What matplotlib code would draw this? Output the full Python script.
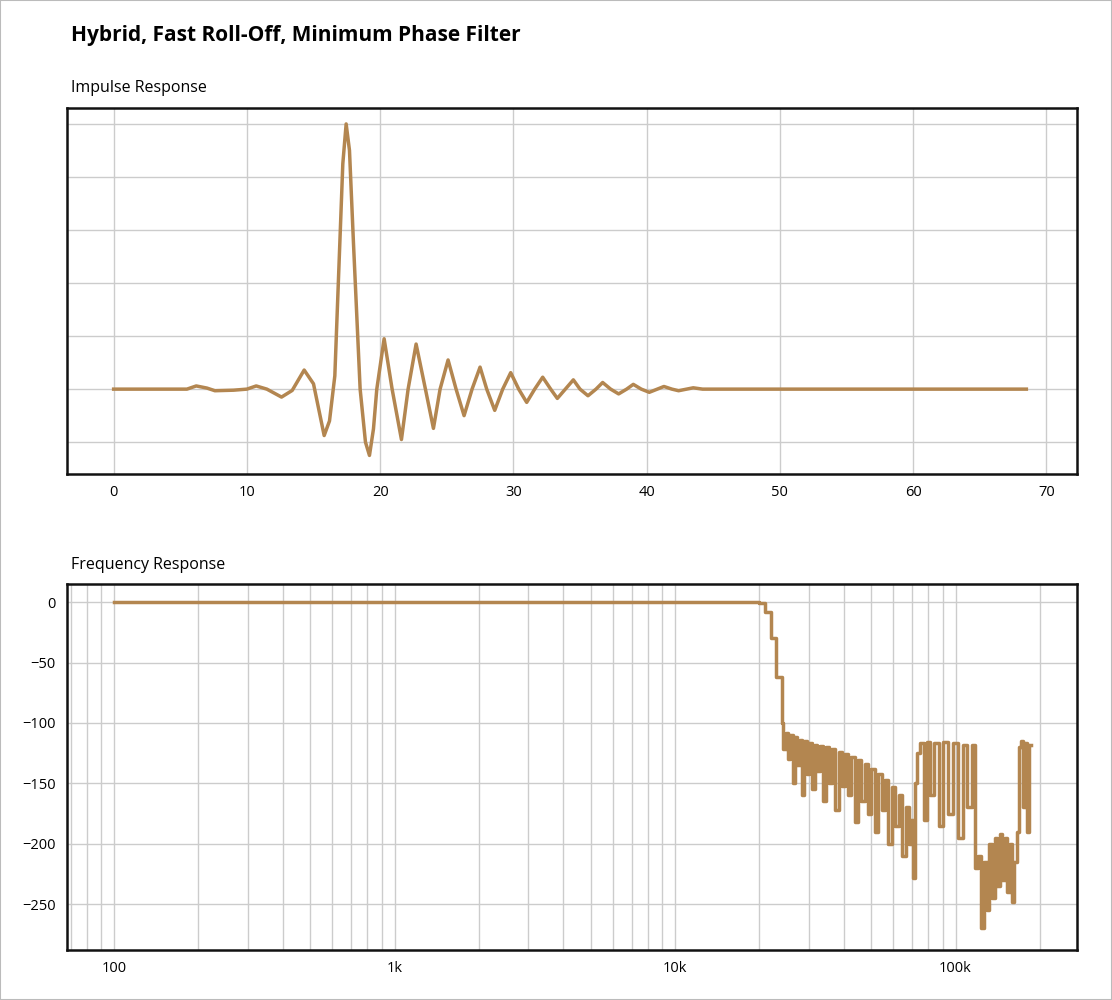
import matplotlib.pyplot as plt
from matplotlib.ticker import FixedLocator, NullFormatter

# impulse response (time, amplitude)
imp_t = [0, 5.5, 6.2, 7.0, 7.6, 9.0, 10.0, 10.7, 11.5, 12.6, 13.4, 14.3, 15.0, 15.8, 16.2,
         16.6, 16.9, 17.2, 17.45, 17.7, 18.0, 18.5, 18.9, 19.2, 19.5, 19.75, 20.3, 20.9,
         21.6, 22.1, 22.7, 23.4, 24.0, 24.5, 25.1, 25.7, 26.3, 26.9, 27.5, 28.0, 28.6,
         29.2, 29.8, 30.4, 31.0, 31.6, 32.2, 32.8, 33.3, 33.9, 34.5, 35.0, 35.6, 36.2,
         36.7, 37.3, 37.9, 38.5, 39.0, 39.6, 40.2, 40.8, 41.3, 41.9, 42.4, 43.0, 43.5,
         44.2, 45.0, 68.5]
imp_h = [0, 0, 0.012, 0.004, -0.006, -0.004, 0.0, 0.012, 0.0, -0.03, -0.005, 0.072, 0.02,
         -0.175, -0.12, 0.05, 0.45, 0.85, 1.0, 0.9, 0.55, 0.0, -0.2, -0.25, -0.15, 0.0,
         0.19, 0.0, -0.19, 0.0, 0.17, 0.0, -0.148, 0.0, 0.11, 0.0, -0.1, 0.0, 0.083, 0.0,
         -0.08, 0.0, 0.062, 0.0, -0.05, 0.0, 0.045, 0.0, -0.035, 0.0, 0.035, 0.0, -0.025,
         0.0, 0.025, 0.0, -0.018, 0.0, 0.018, 0.0, -0.012, 0.0, 0.01, 0.0, -0.006, 0.0,
         0.005, 0.0, 0.0, 0.0]

# frequency response (Hz, dB)
frq = [100, 19000, 20000, 21000, 22000, 23000, 24000, 24300,
       24800, 25300, 25800, 26300, 26800, 27300, 27800, 28300, 28900, 29500, 30100,
       30800, 31500, 32200, 33000, 33800, 34600, 35500, 36400, 37300, 38300, 39300,
       40300, 41400, 42500, 43700, 44900, 46100, 47400, 48700, 50000, 51500, 53000,
       54500, 56000, 57600, 59300, 61000, 62800, 64600, 66500, 68300, 69500, 70500,
       71500, 73000, 75000, 77000, 79000, 81000, 84000, 87000, 90000, 94000, 98000,
       102000, 106000, 110000, 114000, 117000, 120000, 123000, 126000, 129000, 132000,
       135000, 138000, 141000, 144000, 147000, 150000, 153000, 156000, 159000, 162000,
       165000, 168000, 171000, 174000, 177000, 180000, 183000, 186000]
dbs = [0, 0, -1, -8, -30, -62, -100, -122,
       -108, -130, -110, -150, -112, -135, -114, -160, -115, -142, -117,
       -155, -118, -140, -119, -165, -120, -150, -122, -172, -124, -152, -126,
       -160, -128, -182, -131, -165, -134, -175, -138, -190, -142, -172, -147,
       -200, -153, -185, -160, -210, -170, -200, -180, -228, -150, -125, -117,
       -180, -116, -160, -117, -185, -116, -175, -117, -195, -118, -170, -118,
       -220, -210, -270, -215, -255, -200, -245, -195, -235, -192, -230, -195,
       -240, -200, -248, -215, -190, -120, -115, -170, -117, -190, -118, -118]

tick_hz = [100, 1000, 10000, 100000]
tick_txt = ['100', '1k', '10k', '100k']
minor_hz = [m * 10 ** e for e in range(1, 6) for m in range(2, 10)]

plt.rcParams['font.family'] = ['Open Sans', 'DejaVu Sans']
col = '#b38650'
grid_col = '#cccccc'

fig = plt.figure(figsize=(11.12, 10), dpi=100)
fig.patches.append(plt.Rectangle((0, 0), 1, 1, transform=fig.transFigure,
                                 fill=False, edgecolor='#bbbbbb', lw=1.5))

fig.text(71 / 1112, 1 - 35 / 1000, 'Hybrid, Fast Roll-Off, Minimum Phase Filter',
         fontsize=15, fontweight='bold', va='center')
fig.text(71 / 1112, 1 - 88 / 1000, 'Impulse Response', fontsize=11.5, va='center')
fig.text(71 / 1112, 1 - 565 / 1000, 'Frequency Response', fontsize=11.5, va='center')

W, H = 1112, 1000
ax1 = fig.add_axes([67 / W, 1 - 474 / H, 1010 / W, 366 / H])
ax1.plot(imp_t, imp_h, color=col, lw=2.5)
ax1.set_xlim(-3.5, 72.3)
ax1.set_ylim(-0.32, 1.06)
ax1.set_xticks(range(0, 80, 10))
ax1.set_yticks([-0.2, 0, 0.2, 0.4, 0.6, 0.8, 1.0])
ax1.set_yticklabels([])
ax1.grid(True, color=grid_col, lw=1)
ax1.set_axisbelow(True)
ax1.tick_params(length=0, labelsize=10.5, pad=8)

ax2 = fig.add_axes([67 / W, 1 - 950 / H, 1010 / W, 366 / H])
ax2.plot(frq, dbs, color=col, lw=2.5, drawstyle='steps-post')
ax2.set_xscale('log')
ax2.set_xlim(68, 271000)
ax2.set_ylim(-288, 15)
ax2.xaxis.set_major_locator(FixedLocator(tick_hz))
ax2.set_xticklabels(tick_txt)
ax2.xaxis.set_minor_locator(FixedLocator(minor_hz))
ax2.xaxis.set_minor_formatter(NullFormatter())
ax2.set_yticks([0, -50, -100, -150, -200, -250])
ax2.grid(True, which='both', color=grid_col, lw=1)
ax2.set_axisbelow(True)
ax2.tick_params(which='both', length=0, labelsize=10.5, pad=8)

for ax in (ax1, ax2):
    for s in ax.spines.values():
        s.set_linewidth(1.8)
        s.set_color('#111111')

fig.savefig('out.png', dpi=100)
